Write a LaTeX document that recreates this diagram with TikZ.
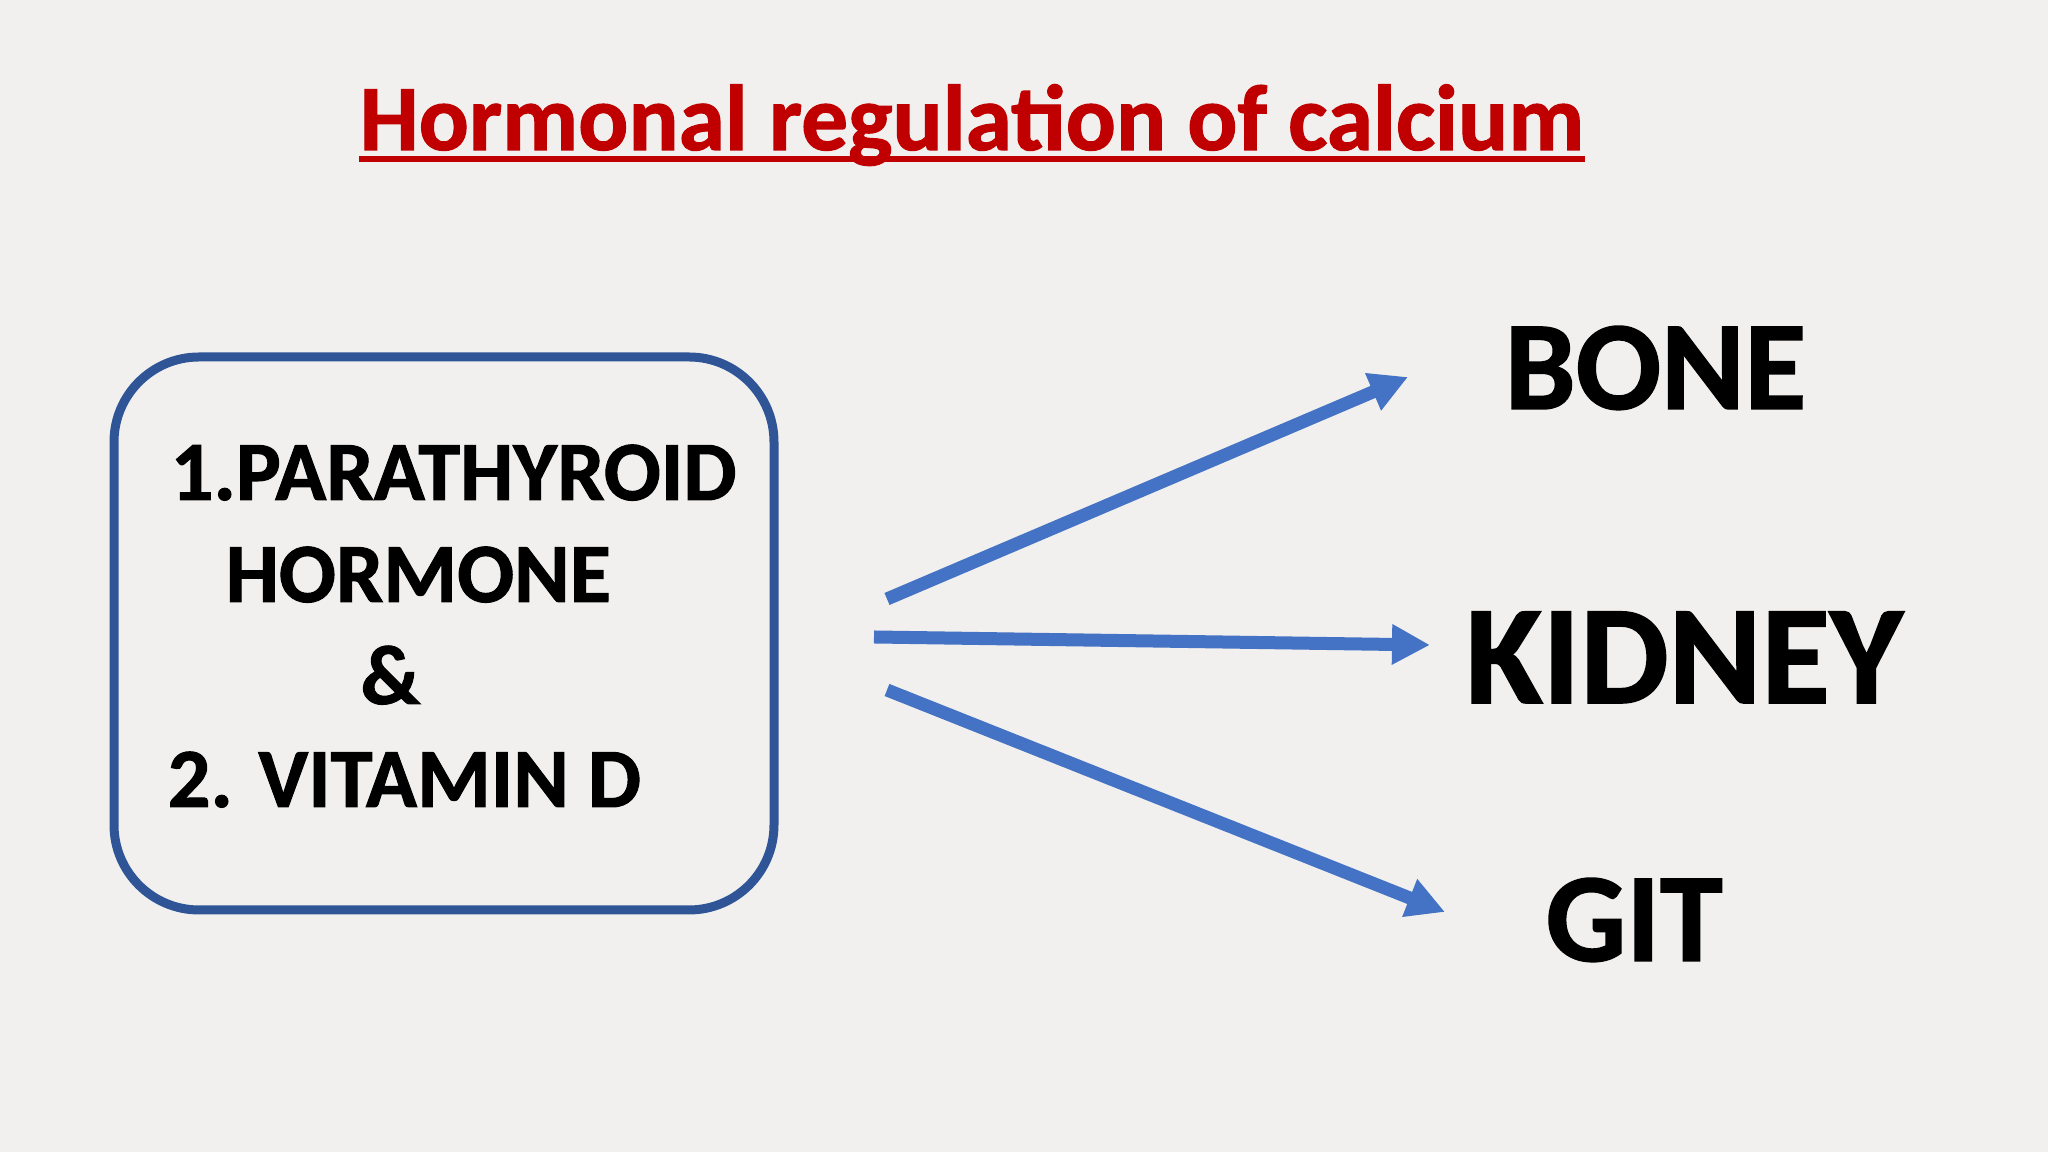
\documentclass[tikz,border=0pt]{standalone}
\usepackage{fontspec}
\setmainfont{Carlito}[BoldFeatures={FakeBold=1.2}]
\usetikzlibrary{arrows.meta,positioning}

\definecolor{paper}{RGB}{241,240,238}
\definecolor{titlered}{RGB}{192,0,0}
\definecolor{boxblue}{RGB}{47,85,151}
\definecolor{arrowblue}{RGB}{68,114,196}

\tikzset{
  boxtext/.style={anchor=base west, inner sep=0pt, font=\bfseries\fontsize{24}{28}\selectfont},
  organ/.style={anchor=base west, inner sep=0pt, font=\bfseries\fontsize{36}{42}\selectfont},
  actionarrow/.style={arrowblue, line width=0.13cm, -{Triangle[length=0.38cm, width=0.38cm]}}
}

\begin{document}
\begin{tikzpicture}
    \fill[paper] (0,0) rectangle (20.48,11.52);
    \useasboundingbox (0,0) rectangle (20.48,11.52);

    % title
    \node[anchor=base west, inner sep=0pt, text=titlered,
          font=\bfseries\fontsize{26.6}{32}\selectfont] (title) at (3.59,10.02)
          {Hormonal regulation of calcium};
    \draw[titlered, line width=0.06cm]
          ([yshift=-0.09cm]title.base west) -- ([yshift=-0.09cm]title.base east);

    % hormones
    \node[draw=boxblue, line width=0.09cm, rounded corners=0.85cm,
          minimum width=6.6cm, minimum height=5.53cm] (box) at (4.44,5.185) {};
    \node[boxtext] (pth) at (1.70,6.52) {1.PARATHYROID};
    \node[boxtext] (hormone) at (2.25,5.50) {HORMONE};
    \node[boxtext] (amp) at (3.60,4.48) {\&};
    \node[boxtext] (vitd) at (1.67,3.45) {2. VITAMIN D};

    % target organs
    \node[organ] (bone) at (15.04,7.43) {BONE};
    \node[organ, font=\bfseries\fontsize{40}{46}\selectfont] (kidney) at (14.65,4.49) {KIDNEY};
    \node[organ] (git) at (15.45,1.91) {GIT};

    \coordinate (boneTail) at (8.87,5.53);
    \coordinate (boneHead) at (14.08,7.75);
    \coordinate (kidneyTail) at (8.74,5.15);
    \coordinate (kidneyHead) at (14.30,5.07);
    \coordinate (gitTail) at (8.87,4.62);
    \coordinate (gitHead) at (14.45,2.40);

    \draw[actionarrow] (boneTail) -- (boneHead);
    \draw[actionarrow] (kidneyTail) -- (kidneyHead);
    \draw[actionarrow] (gitTail) -- (gitHead);
\end{tikzpicture}
\end{document}
